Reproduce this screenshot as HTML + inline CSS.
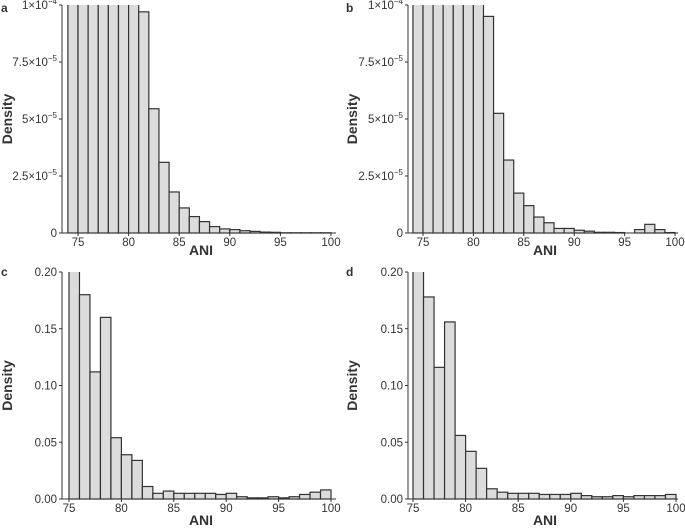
<!DOCTYPE html>
<html><head><meta charset="utf-8"><style>
body{margin:0;background:#fff;}
svg text{font-family:"Liberation Sans",sans-serif;fill:#333;}
</style></head><body>
<svg id="fig" width="685" height="526" viewBox="0 0 685 526" xmlns="http://www.w3.org/2000/svg"></svg>
<script>
const binsA=[74,75,76,77,78,79,80,81,82,83,84,85,86,87,88,89,90,91,92,93,94,95,96,97,98,99];
const valsA=[20,20,20,20,20,20,20,9.7,5.45,3.1,1.8,1.1,0.72,0.5,0.28,0.18,0.15,0.1,0.07,0.04,0.03,0.01,0.01,0.01,0.01,0.01];
const binsB=[74,75,76,77,78,79,80,81,82,83,84,85,86,87,88,89,90,91,92,93,94,95,96,97,98,99];
const valsB=[20,20,20,20,20,20,20,9.5,5.25,3.2,1.75,1.2,0.7,0.45,0.2,0.2,0.12,0.08,0.03,0.03,0.02,0,0.15,0.38,0.15,0.02];
const binsC=[75,76,77,78,79,80,81,82,83,84,85,86,87,88,89,90,91,92,93,94,95,96,97,98,99];
const valsC=[0.3,0.18,0.112,0.16,0.054,0.039,0.034,0.011,0.005,0.007,0.005,0.005,0.005,0.005,0.004,0.005,0.002,0.001,0.001,0.002,0.001,0.002,0.004,0.006,0.008];
const binsD=[75,76,77,78,79,80,81,82,83,84,85,86,87,88,89,90,91,92,93,94,95,96,97,98,99];
const valsD=[0.3,0.178,0.116,0.156,0.056,0.042,0.027,0.009,0.006,0.005,0.005,0.005,0.004,0.004,0.004,0.005,0.003,0.002,0.002,0.003,0.002,0.003,0.003,0.003,0.004];
const xTicks=[75,80,85,90,95,100];
const yTicksTop=[0,2.5,5,7.5,10];
const yLabelsTop=[["0",""],["2.5\u00d710","\u22125"],["5\u00d710","\u22125"],["7.5\u00d710","\u22125"],["1\u00d710","\u22124"]];
const yTicksBot=[0,0.05,0.10,0.15,0.20];
const yLabelsBot=[["0.00",""],["0.05",""],["0.10",""],["0.15",""],["0.20",""]];
const NS="http://www.w3.org/2000/svg";
const svg=document.getElementById('fig');
function mk(tag,attrs,parent){const e=document.createElementNS(NS,tag);for(const k in attrs)e.setAttribute(k,attrs[k]);(parent||svg).appendChild(e);return e;}
function panel(id,letter,bins,vals,axL,axR,x0px,x0v,scale,yTop,yBot,yMax,yTicks,yLabels,letterX,letterY,titleOff){
  const g=mk('g',{});
  
  
  const xs=v=>x0px+(v-x0v)*scale;
  const ys=v=>yBot-(v/yMax)*(yBot-yTop);
  const cp=mk('clipPath',{id:'clip'+id},g);
  mk('rect',{x:axL,y:yTop,width:axR-axL,height:yBot-yTop+1},cp);
  const bg=mk('g',{'clip-path':'url(#clip'+id+')'},g);
  bins.forEach((b,i)=>{
    const y=ys(vals[i]);
    const r=mk('rect',{x:xs(b),y:y,width:scale,height:yBot-y,fill:'#dcdcdc',stroke:'#333','stroke-width':1.2},bg);
    
    
  });
  const ya=mk('line',{x1:axL,y1:yTop,x2:axL,y2:yBot,stroke:'#333','stroke-width':1},g);
  
  
  const xa=mk('line',{x1:axL,y1:yBot,x2:axR,y2:yBot,stroke:'#333','stroke-width':1},g);
  
  
  xTicks.forEach(t=>{
    mk('line',{x1:xs(t),y1:yBot,x2:xs(t),y2:yBot+3,stroke:'#333'},g);
    const tx=mk('text',{x:xs(t),y:yBot+13,'text-anchor':'middle','font-size':11.5},g);
    tx.textContent=t;
    
    
  });
  yTicks.forEach((t,i)=>{
    const y=ys(t);
    mk('line',{x1:axL-3,y1:y,x2:axL,y2:y,stroke:'#333'},g);
    const tx=mk('text',{x:axL-5,y:y+4,'text-anchor':'end','font-size':11.5},g);
    
    
    const a=mk('tspan',{},tx);a.textContent=yLabels[i][0];
    if(yLabels[i][1]){const s=mk('tspan',{dy:-5,'font-size':8},tx);s.textContent=yLabels[i][1];}
  });
  const xl=mk('text',{x:(axL+axR)/2+2,y:yBot+titleOff,'text-anchor':'middle','font-size':14,'font-weight':'bold',fill:'#222'},g);
  xl.textContent='ANI';
  
  
  const cy=(yTop+yBot)/2;
  const yl=mk('text',{x:0,y:0,transform:'translate('+(letterX+11)+','+cy+') rotate(-90)','text-anchor':'middle','font-size':14,'font-weight':'bold',fill:'#222'},g);
  yl.textContent='Density';
  
  
  const pl=mk('text',{x:letterX,y:letterY,'font-size':12,'font-weight':'bold',fill:'#222'},g);
  pl.textContent=letter;
  
  
}
panel('a','a',binsA,valsA,62,336,78,75,10.12,5,233,10,yTicksTop,yLabelsTop,1,12,22);
panel('b','b',binsB,valsB,408,678,423,75,10.08,5,233,10,yTicksTop,yLabelsTop,346,12,22);
panel('c','c',binsC,valsC,62,336,69,75,10.48,272,499,0.20,yTicksBot,yLabelsBot,1,276,26);
panel('d','d',binsD,valsD,408,678,413,75,10.52,272,499,0.20,yTicksBot,yLabelsBot,346,276,26);
</script>
</body></html>
